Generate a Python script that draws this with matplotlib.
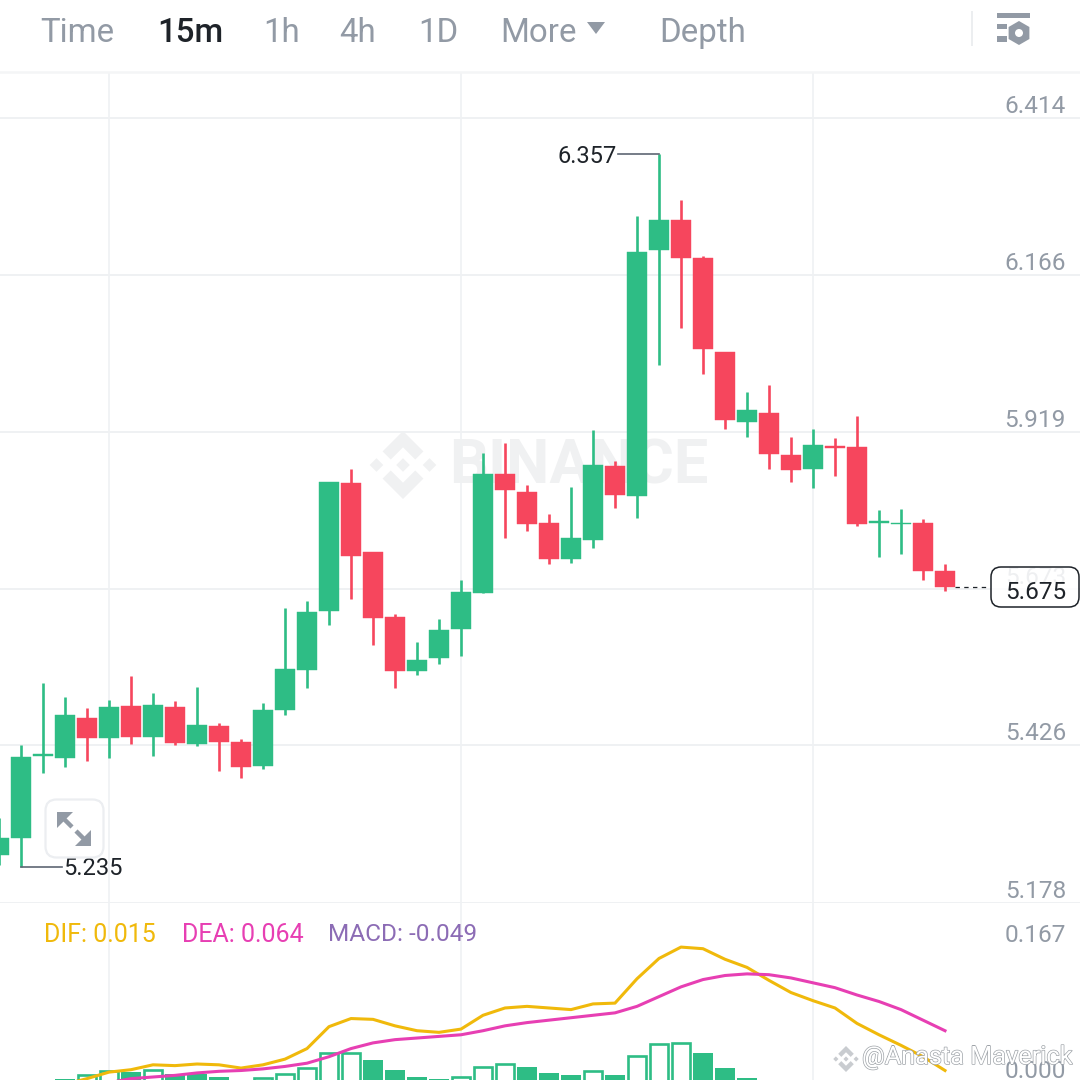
#!/usr/bin/python3

import matplotlib
matplotlib.use("Agg")
import matplotlib.pyplot as plt
import matplotlib.patheffects as pe
from matplotlib.patches import FancyBboxPatch, Polygon, Circle, Rectangle, RegularPolygon

plt.rcParams['font.family'] = ['Roboto', 'DejaVu Sans']

GREEN = "#2EBD85"
RED = "#F6465D"
GRID = "#EFF1F3"
GRAY = "#929AA5"
DARK = "#1E2329"

# candles, first one is cut by the left edge
first_index = -1
opens = [5.254, 5.280, 5.409, 5.407, 5.470, 5.438, 5.488, 5.440, 5.487, 5.429, 5.457,
         5.432, 5.393, 5.482, 5.545, 5.637, 5.839, 5.731, 5.629, 5.544, 5.563, 5.609,
         5.666, 5.853, 5.825, 5.777, 5.719, 5.750, 5.866, 5.819, 6.206, 6.253, 6.193,
         6.046, 5.936, 5.950, 5.883, 5.861, 5.897, 5.896, 5.776, 5.774, 5.776, 5.701]
closes = [5.281, 5.408, 5.412, 5.474, 5.438, 5.486, 5.440, 5.489, 5.430, 5.458, 5.432,
          5.392, 5.482, 5.546, 5.636, 5.841, 5.725, 5.627, 5.543, 5.561, 5.608, 5.667,
          5.853, 5.828, 5.775, 5.720, 5.752, 5.868, 5.820, 6.203, 6.254, 6.194, 6.050,
          5.938, 5.954, 5.885, 5.860, 5.899, 5.894, 5.775, 5.779, 5.776, 5.701, 5.675]
highs = [5.312, 5.427, 5.524, 5.503, 5.485, 5.498, 5.535, 5.508, 5.496, 5.518, 5.461,
         5.436, 5.493, 5.642, 5.654, 5.841, 5.862, 5.731, 5.633, 5.589, 5.625, 5.687,
         5.886, 5.903, 5.836, 5.790, 5.833, 5.923, 5.874, 6.259, 6.357, 6.285, 6.196,
         6.046, 5.983, 5.993, 5.911, 5.925, 5.910, 5.944, 5.796, 5.798, 5.783, 5.711]
lows = [5.238, 5.235, 5.383, 5.392, 5.402, 5.406, 5.428, 5.410, 5.427, 5.425, 5.386,
        5.375, 5.389, 5.474, 5.516, 5.615, 5.656, 5.584, 5.516, 5.537, 5.555, 5.567,
        5.666, 5.752, 5.763, 5.711, 5.713, 5.737, 5.800, 5.784, 6.025, 6.083, 6.011,
        5.924, 5.911, 5.862, 5.841, 5.831, 5.851, 5.772, 5.722, 5.728, 5.687, 5.669]

price_ticks = [6.414, 6.166, 5.919, 5.673, 5.426, 5.178]
grid_candles = [4, 20, 36]

# macd panel
dif_start = 2
dif = [-0.002, 0.005, 0.013, 0.016, 0.022, 0.021, 0.023, 0.022, 0.018, 0.022, 0.029,
       0.042, 0.069, 0.079, 0.078, 0.070, 0.064, 0.062, 0.066, 0.083, 0.092, 0.094,
       0.092, 0.090, 0.097, 0.098, 0.128, 0.153, 0.167, 0.165, 0.152, 0.142, 0.126,
       0.111, 0.101, 0.092, 0.073, 0.059, 0.046, 0.032, 0.015]
dea_start = 4
dea = [0.000, 0.005, 0.007, 0.009, 0.012, 0.014, 0.015, 0.017, 0.020, 0.024, 0.032,
       0.042, 0.049, 0.053, 0.055, 0.057, 0.059, 0.064, 0.070, 0.074, 0.077, 0.080,
       0.083, 0.086, 0.094, 0.106, 0.118, 0.127, 0.132, 0.134, 0.133, 0.129, 0.123,
       0.117, 0.108, 0.100, 0.090, 0.077, 0.064]
hist_start = 2
hist = [0.005, 0.009, 0.015, 0.013, 0.016, 0.011, 0.011, 0.007, 0.001, 0.006, 0.011,
        0.018, 0.036, 0.037, 0.028, 0.016, 0.007, 0.005, 0.007, 0.019, 0.023, 0.019,
        0.012, 0.009, 0.014, 0.010, 0.033, 0.048, 0.049, 0.036, 0.018, 0.006]
macd_ticks = [0.167, 0.000]

tabs = ["Time", "15m", "1h", "4h", "1D", "More", "Depth"]
tab_left = [40, 157, 263, 339, 418, 500, 659]


def px_axes(fig, z):
    ax = fig.add_axes([0, 0, 1, 1], zorder=z)
    ax.set_xlim(0, 1080)
    ax.set_ylim(1080, 0)
    ax.axis("off")
    return ax


def panel_axes(fig, top, bottom, ylim):
    ax = fig.add_axes([0, 1 - bottom / 1080, 1, (bottom - top) / 1080], zorder=1)
    ax.patch.set_alpha(0)
    ax.set_xlim(-21 / 22, 1059 / 22)
    ax.set_ylim(*ylim)
    ax.set_xticks([])
    ax.set_yticks([])
    for s in ax.spines.values():
        s.set_visible(False)
    for c in grid_candles:
        ax.axvline(c, color=GRID, lw=1.2, zorder=0)
    return ax


def tick_labels(ax, ticks, fmt="%.3f"):
    for t in ticks:
        ax.annotate(fmt % t, xy=(1066 / 1080, t), xycoords=("axes fraction", "data"),
                    xytext=(0, 8.3), textcoords="offset points", ha="right", va="center",
                    fontsize=17.6, color=GRAY, annotation_clip=False, zorder=1)


def draw_candles(ax):
    xs = [first_index + i for i in range(len(opens))]
    colors = [GREEN if c >= o else RED for o, c in zip(opens, closes)]
    ax.vlines(xs, lows, highs, colors=colors, lw=1.9, zorder=3)
    bottoms = [min(o, c) for o, c in zip(opens, closes)]
    heights = [abs(o - c) for o, c in zip(opens, closes)]
    ax.bar(xs, heights, bottom=bottoms, width=0.88, color=colors, edgecolor=colors,
           lw=0.3, zorder=4)


def draw_macd(ax):
    xs = [hist_start + i for i in range(len(hist))]
    for i, (x, v) in enumerate(zip(xs, hist)):
        rising = i > 0 and v > hist[i - 1]
        if rising:
            ax.bar(x, v, width=0.82, facecolor="white", edgecolor=GREEN, lw=1.9, zorder=2)
        else:
            ax.bar(x, v, width=0.88, color=GREEN, zorder=2)
    ax.plot([dif_start + i for i in range(len(dif))], dif, color="#F0B90B", lw=2.2, zorder=3)
    ax.plot([dea_start + i for i in range(len(dea))], dea, color="#E73FB3", lw=2.2, zorder=4)


def diamond_logo(ax, cx, cy, s, color):
    # binance mark from small squares and two chevrons
    def sq(x, y, r):
        ax.add_patch(Polygon([(x - r, y), (x, y - r), (x + r, y), (x, y + r)], color=color, lw=0))
    sq(cx, cy, s * 0.2)
    sq(cx - s * 0.78, cy, s * 0.2)
    sq(cx + s * 0.78, cy, s * 0.2)
    for d in (-1, 1):
        ax.add_patch(Polygon([(cx, cy + d * s), (cx + s * 0.6, cy + d * s * 0.4),
                              (cx + s * 0.36, cy + d * s * 0.16), (cx, cy + d * s * 0.52),
                              (cx - s * 0.36, cy + d * s * 0.16), (cx - s * 0.6, cy + d * s * 0.4)],
                             color=color, lw=0))


def draw_header(ax):
    for name, x in zip(tabs, tab_left):
        active = name == "15m"
        ax.text(x, 33, name, fontsize=23.8, va="center", ha="left",
                color=DARK if active else GRAY, fontweight=500 if active else "normal")
    ax.add_patch(Polygon([(587, 22), (605, 22), (596, 34)], color=GRAY, lw=0))
    ax.plot([0, 1080], [72, 72], color="#F4F5F6", lw=1.8)
    ax.plot([972, 972], [12, 45], color="#ECEEF0", lw=1.4)
    ax.add_patch(Rectangle((997, 13), 33, 5, color=GRAY, lw=0))
    ax.add_patch(Rectangle((997, 24), 10, 5, color=GRAY, lw=0))
    ax.add_patch(Rectangle((997, 36), 10, 6, color=GRAY, lw=0))
    ax.add_patch(RegularPolygon((1019, 33), 6, radius=12, color=GRAY, lw=0))
    ax.add_patch(Circle((1019, 33), 4, color="white", lw=0))


def draw_expand(ax):
    ax.add_patch(FancyBboxPatch((45.5, 799.5), 58, 58, boxstyle="round,pad=0,rounding_size=11",
                                fc="white", ec="#ECEEF1", lw=1.6))
    ax.add_patch(Polygon([(57, 812), (73, 812), (57, 828)], color=GRAY, lw=0))
    ax.add_patch(Polygon([(91, 846), (75, 846), (91, 830)], color=GRAY, lw=0))
    ax.plot([62, 72], [817, 827], color=GRAY, lw=3.2, solid_capstyle="butt")
    ax.plot([76, 86], [831, 841], color=GRAY, lw=3.2, solid_capstyle="butt")


def draw_price_marks(ax, pax):
    # high, low and last price callouts
    hi = max(highs)
    lo = min(lows)
    hi_x = first_index + highs.index(hi)
    lo_x = first_index + lows.index(lo)
    pax.plot([hi_x - 1.86, hi_x], [hi, hi], color="#5E6673", lw=1.2, zorder=5)
    pax.annotate("%.3f" % hi, xy=(hi_x - 1.92, hi), xytext=(0, -1.5), textcoords="offset points",
                 ha="right", va="center", fontsize=17, color=DARK, zorder=6)
    pax.plot([lo_x, lo_x + 1.86], [lo, lo], color="#5E6673", lw=1.2, zorder=5)
    pax.annotate("%.3f" % lo, xy=(lo_x + 1.92, lo), xytext=(0, -1.5), textcoords="offset points",
                 ha="left", va="center", fontsize=17, color=DARK, zorder=6)
    last = closes[-1]
    pax.plot([42.45, 44.05], [last, last], color=DARK, lw=0.9, ls=(0, (3.5, 3.5)), zorder=5)
    ax.add_patch(FancyBboxPatch((991, 567), 88, 40, boxstyle="round,pad=0,rounding_size=10",
                                fc=(1, 1, 1, 0.85), ec=DARK, lw=1.1))
    ax.text(1066, 592.5, "%.3f" % last, ha="right", va="center", fontsize=17.6, color=DARK)


def main():
    fig = plt.figure(figsize=(10.8, 10.8), dpi=100, facecolor="white")

    back = px_axes(fig, 0)
    diamond_logo(back, 403, 465, 34, "#F0F1F2")
    back.text(449, 466, "BINANCE", fontsize=44, fontweight="bold", color="#F0F1F2",
              ha="left", va="center")

    # 72 and 903 are the panel edges in pixels
    pax = panel_axes(fig, 72, 903, (5.178, 6.4864))
    for t in price_ticks:
        pax.axhline(t, color=GRID, lw=1.4, zorder=0)
    tick_labels(pax, price_ticks)
    draw_candles(pax)

    macd_ax = panel_axes(fig, 903, 1080, (0.0033, 0.2213))
    tick_labels(macd_ax, macd_ticks)
    draw_macd(macd_ax)

    front = px_axes(fig, 3)
    draw_header(front)
    draw_expand(front)
    draw_price_marks(front, pax)

    front.text(44, 934.5, "DIF: 0.015", fontsize=18, color="#F0B90B", va="center")
    front.text(182, 934.5, "DEA: 0.064", fontsize=18, color="#E73FB3", va="center")
    front.text(328, 934.5, "MACD: -0.049", fontsize=17.6, color="#8C6CB5", va="center")

    diamond_logo(front, 846, 1059, 13, "#C9CCD0")
    front.text(862, 1057, "@Anasta Maverick", fontsize=18.2, color="white", va="center",
               path_effects=[pe.withStroke(linewidth=1.0, foreground="#9EA3A8")])

    fig.savefig("out.png", dpi=100)


main()
